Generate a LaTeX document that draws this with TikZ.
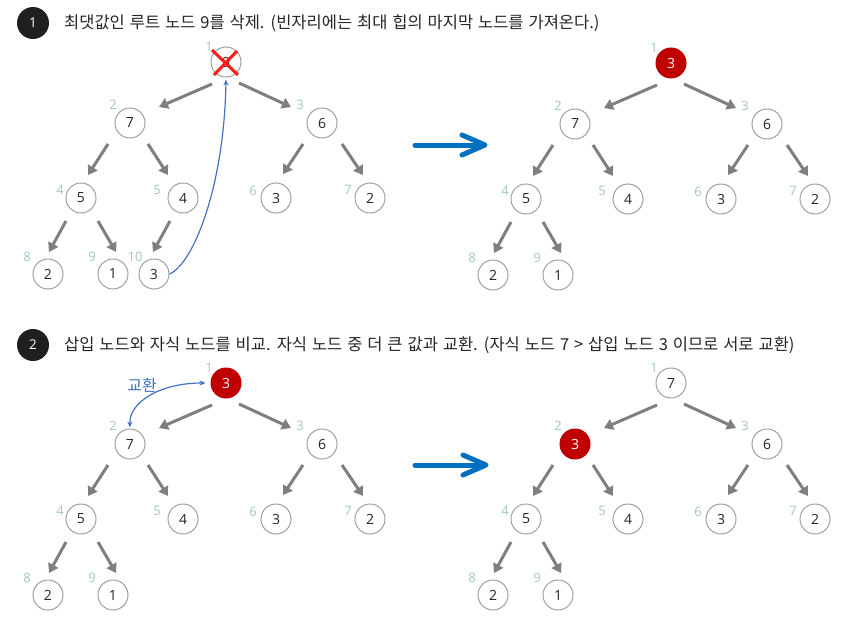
\documentclass[tikz,border=0pt]{standalone}
\usepackage{fontspec}
\setmainfont{Open Sans}
\newfontfamily\kr[WordSpace=1.33]{Noto Sans CJK KR}
\usetikzlibrary{arrows.meta}
\definecolor{nodeline}{HTML}{A0A0A0}
\definecolor{idxc}{HTML}{A3C6CA}
\definecolor{arrg}{HTML}{7F7F7F}
\definecolor{hotred}{HTML}{C00000}
\definecolor{bigblue}{HTML}{0070C0}
\definecolor{swapblue}{HTML}{4472C4}
\definecolor{xred}{HTML}{FF1A1A}
\definecolor{badge}{HTML}{1F1F1F}
\tikzset{
  nd/.style={circle, draw=nodeline, line width=1pt, fill=white, minimum size=30pt, inner sep=0pt, text=black!85, font=\fontsize{14}{14}\selectfont},
  hot/.style={fill=hotred, draw=hotred, text=white},
  n1/.style={}, n2/.style={},
  idx/.style={text=idxc, inner sep=0pt, font=\fontsize{13}{13}\selectfont},
  tarr/.style={draw=arrg, line width=3pt, -{Triangle[length=9pt,width=11pt]}},
  bigarr/.style={draw=bigblue, line width=5pt, line cap=round, line join=round},
  swp/.style={draw=swapblue, line width=1.2pt},
  badgec/.style={circle, fill=badge, minimum size=32pt, inner sep=0pt, text=white, font=\fontsize{13.5}{13.5}\selectfont},
  ttl/.style={anchor=west, inner sep=0pt, font=\kr\fontsize{16.5}{16.5}\selectfont, text=black!85},
}
\newcommand\heapbody[9]{%
  \node[nd,n1] (r) at (226,62) {#1};
  \node[nd,n2] (a) at (130,123) {#2};
  \node[nd] (b) at (322,123) {#3};
  \node[nd] (c) at (81,198) {#4};
  \node[nd] (d) at (183,198) {#5};
  \node[nd] (e) at (276,198) {#6};
  \node[nd] (f) at (370,198) {#7};
  \node[nd] (g) at (48,274) {#8};
  \node[nd] (h) at (113,274) {#9};
  \node[idx] (lr) at ([shift={(-17,-15)}]r.center) {1};
  \node[idx] (la) at ([shift={(-17,-18)}]a.center) {2};
  \node[idx] (lb) at ([shift={(-22,-18)}]b.center) {3};
  \node[idx] (lc) at ([shift={(-21,-8)}]c.center) {4};
  \node[idx] (ld) at ([shift={(-26,-8)}]d.center) {5};
  \node[idx] (le) at ([shift={(-23,-7)}]e.center) {6};
  \node[idx] (lf) at ([shift={(-22,-8)}]f.center) {7};
  \node[idx] (lg) at ([shift={(-21,-17)}]g.center) {8};
  \node[idx] (lh) at ([shift={(-21,-17)}]h.center) {9};
  \draw[tarr] ([shift={(-14,22)}]r.center) -- ([shift={(29,-16)}]a.center);
  \draw[tarr] ([shift={(13,21)}]r.center) -- ([shift={(-31,-16)}]b.center);
  \draw[tarr] ([shift={(-22,21)}]a.center) -- ([shift={(7,-23)}]c.center);
  \draw[tarr] ([shift={(18,21)}]a.center) -- ([shift={(-15,-23)}]d.center);
  \draw[tarr] ([shift={(-19,21)}]b.center) -- ([shift={(7,-24)}]e.center);
  \draw[tarr] ([shift={(20,21)}]b.center) -- ([shift={(-7,-23)}]f.center);
  \draw[tarr] ([shift={(-15,23)}]c.center) -- ([shift={(1,-22)}]g.center);
  \draw[tarr] ([shift={(17,23)}]c.center) -- ([shift={(3,-22)}]h.center);
}
\begin{document}
\begin{tikzpicture}[x=1pt,y=-1pt]
\useasboundingbox[fill=white] (0,0) rectangle (848,618);
% ---------- panel 1 ----------
\node[badgec] (b1) at (33,23) {1};
\node[ttl] (t1) at (64,23) {최댓값인 루트 노드 9를 삭제. (빈자리에는 최대 힙의 마지막 노드를 가져온다.)};
\begin{scope}[name prefix=L-]
  \heapbody{9}{7}{6}{5}{4}{3}{2}{2}{1}
  \node[nd] (i) at (154,274) {3};
  \node[idx] (li) at ([shift={(-19,-17)}]i.center) {10};
  \draw[tarr] ([shift={(-13,23)}]d.center) -- ([shift={(-1,-22)}]i.center);
  \draw[xred, line width=3pt] ([shift={(-14,-12)}]r.center) -- ([shift={(12,13)}]r.center);
  \draw[xred, line width=3pt] ([shift={(11,-11)}]r.center) -- ([shift={(-12,13)}]r.center);
\end{scope}
\draw[swp, -{Stealth[length=6pt,width=5pt]}] (L-i.east) .. controls (192,265) and (224,190) .. ([yshift=-2pt]L-r.south);
\coordinate (p1s) at (415,145);
\coordinate (p1t) at (485,145);
\draw[bigarr] (p1s) -- ([xshift=-3pt]p1t);
\draw[bigarr] ([shift={(-23,-10)}]p1t) -- (p1t) -- ([shift={(-23,10)}]p1t);
\begin{scope}[shift={(445,1)}, name prefix=R-, n1/.style={hot}]
  \heapbody{3}{7}{6}{5}{4}{3}{2}{2}{1}
\end{scope}
% ---------- panel 2 ----------
\node[badgec] (b2) at (33,345) {2};
\node[ttl] (t2) at (64,345) {삽입 노드와 자식 노드를 비교. 자식 노드 중 더 큰 값과 교환. (자식 노드 7 > 삽입 노드 3 이므로 서로 교환)};
\begin{scope}[shift={(0,321)}, name prefix=M-, n1/.style={hot}]
  \heapbody{3}{7}{6}{5}{4}{3}{2}{2}{1}
\end{scope}
\draw[swp, {Stealth[length=6pt,width=5pt]}-{Stealth[length=6pt,width=5pt]}] ([yshift=1pt]M-a.north) .. controls (129,402) and (160,383) .. ([xshift=-5pt]M-r.west);
\node[text=swapblue, inner sep=0pt, font=\kr\fontsize{16}{16}\selectfont] (sw) at (142,385) {교환};
\coordinate (p2s) at (415,465);
\coordinate (p2t) at (486,465);
\draw[bigarr] (p2s) -- ([xshift=-3pt]p2t);
\draw[bigarr] ([shift={(-23,-10)}]p2t) -- (p2t) -- ([shift={(-23,10)}]p2t);
\begin{scope}[shift={(445,321)}, name prefix=N-, n2/.style={hot}]
  \heapbody{7}{3}{6}{5}{4}{3}{2}{2}{1}
\end{scope}
\end{tikzpicture}
\end{document}
